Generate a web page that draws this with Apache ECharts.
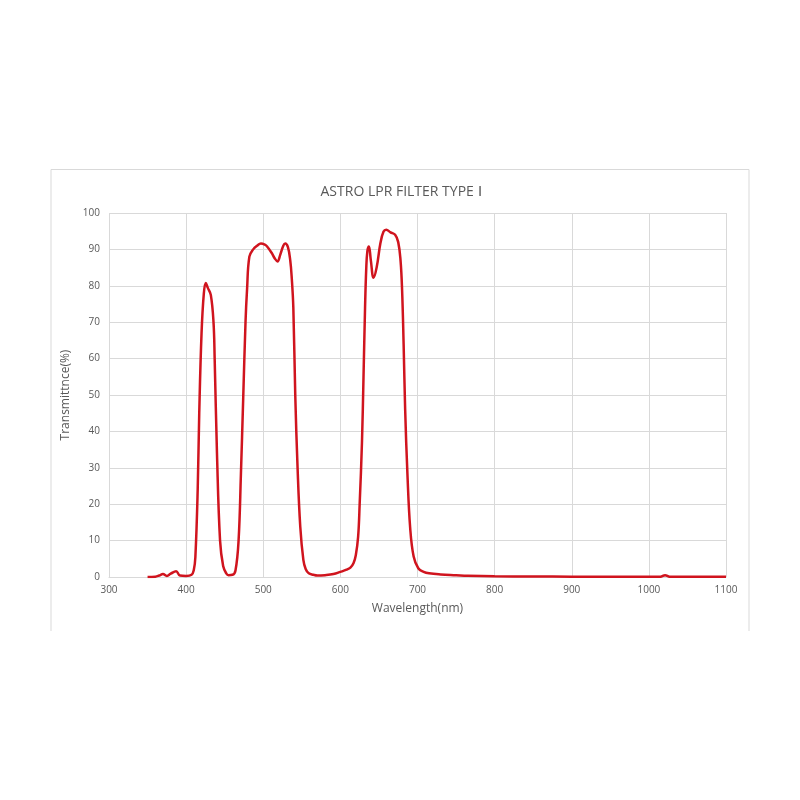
<!DOCTYPE html>
<html>

<head>
  <meta charset="utf-8" />
  <script src="https://cdn.jsdelivr.net/npm/echarts@6/dist/echarts.min.js"></script>
</head>

<body style="margin:0;background:#fff;">
  <div id="main" style="width: 800px;height:800px;"></div>
  <script type="text/javascript">
    var myChart = echarts.init(document.getElementById('main'));

    // wavelength (nm) and transmittance (%)
    var wavelength = [350, 360, 365, 370, 375, 380, 387, 392, 400, 407, 410, 412, 415, 417, 420, 423, 425.5, 428, 432, 435.5,
      437, 440, 444, 448, 452, 455, 460, 464, 468, 471, 474, 477, 479, 482, 487, 492, 497, 502, 505, 511,
      515, 518.5, 522, 526, 528.5, 532, 535, 537, 539, 541.5, 544.5, 548, 552, 555, 559, 565, 570, 580, 591, 600,
      608, 613, 617, 620, 623, 625, 628, 630, 632, 633.5, 635, 637, 639.5, 643, 647, 652, 656, 659.5, 665, 671,
      675, 678, 680, 682, 684, 687, 690.5, 695, 701, 708, 715, 730, 750, 765, 800, 850, 900, 950, 1000, 1015,
      1021, 1027, 1050, 1100]
    var transmittance = [0, 0.1, 0.4, 0.8, 0.3, 0.9, 1.6, 0.4, 0.3, 0.6, 2.0, 5.5, 24, 45, 67, 78, 80.8, 79.5, 77.5, 70,
      60, 34, 10, 3, 1.0, 0.5, 0.6, 1.8, 10, 28, 49, 70, 79, 88, 90, 91, 91.6, 91.3, 90.8, 89,
      87.5, 86.7, 88.5, 91, 91.6, 90.6, 87, 82, 74, 50, 30, 13.8, 4.7, 2.2, 1, 0.6, 0.4, 0.5, 0.8, 1.4,
      2, 2.6, 3.8, 6, 11, 20, 37, 55, 74, 84.5, 89.5, 90.8, 87, 82.2, 85, 91.8, 94.9, 95.4, 94.7, 94,
      92, 87, 79, 64, 46, 28, 13.5, 5.6, 2.4, 1.4, 1.0, 0.7, 0.5, 0.35, 0.2, 0.15, 0.1, 0.1, 0.1, 0.1,
      0.5, 0.1, 0.1, 0.1]

    var points = wavelength.map(function (w, k) { return [w, transmittance[k]] })

    var font = 'Open Sans'
    var grey = '#595959'
    var gridColor = '#d9d9d9'

    var option = {
      backgroundColor: '#fff',
      title: {
        text: 'ASTRO LPR FILTER TYPE Ⅰ',
        left: 396,
        textAlign: 'center',
        top: 180,
        textStyle: { fontFamily: font, fontSize: 14, fontWeight: 'normal', color: grey }
      },
      graphic: [
        {
          type: 'polyline',
          shape: { points: [[51, 631], [51, 169.5], [749, 169.5], [749, 631]] },
          style: { stroke: gridColor, fill: null, lineWidth: 1 },
          silent: true
        }
      ],
      grid: { left: 109, right: 74, top: 213, bottom: 223 },
      xAxis: {
        type: 'value',
        min: 300,
        max: 1100,
        interval: 100,
        name: 'Wavelength(nm)',
        nameLocation: 'middle',
        nameGap: 26,
        nameTextStyle: { fontFamily: font, fontSize: 12, color: grey },
        axisLine: { show: true, lineStyle: { color: gridColor } },
        axisTick: { show: false },
        axisLabel: { fontFamily: font, fontSize: 10, color: grey, margin: 8, formatter: function (v) { return String(v) } },
        splitLine: { show: true, lineStyle: { color: gridColor } }
      },
      yAxis: {
        type: 'value',
        min: 0,
        max: 100,
        interval: 10,
        name: 'Transmittnce(%)',
        nameLocation: 'middle',
        nameRotate: 90,
        nameGap: 30,
        nameTextStyle: { fontFamily: font, fontSize: 12, color: grey },
        axisLine: { show: false },
        axisTick: { show: false },
        axisLabel: { fontFamily: font, fontSize: 10, color: grey, margin: 9 },
        splitLine: { show: true, lineStyle: { color: gridColor } }
      },
      series: [
        {
          type: 'line',
          data: points,
          smooth: 0.4,
          showSymbol: false,
          lineStyle: { color: '#d0141e', width: 2.5 }
        }
      ]
    };

    myChart.setOption(option);
  </script>
</body>

</html>
